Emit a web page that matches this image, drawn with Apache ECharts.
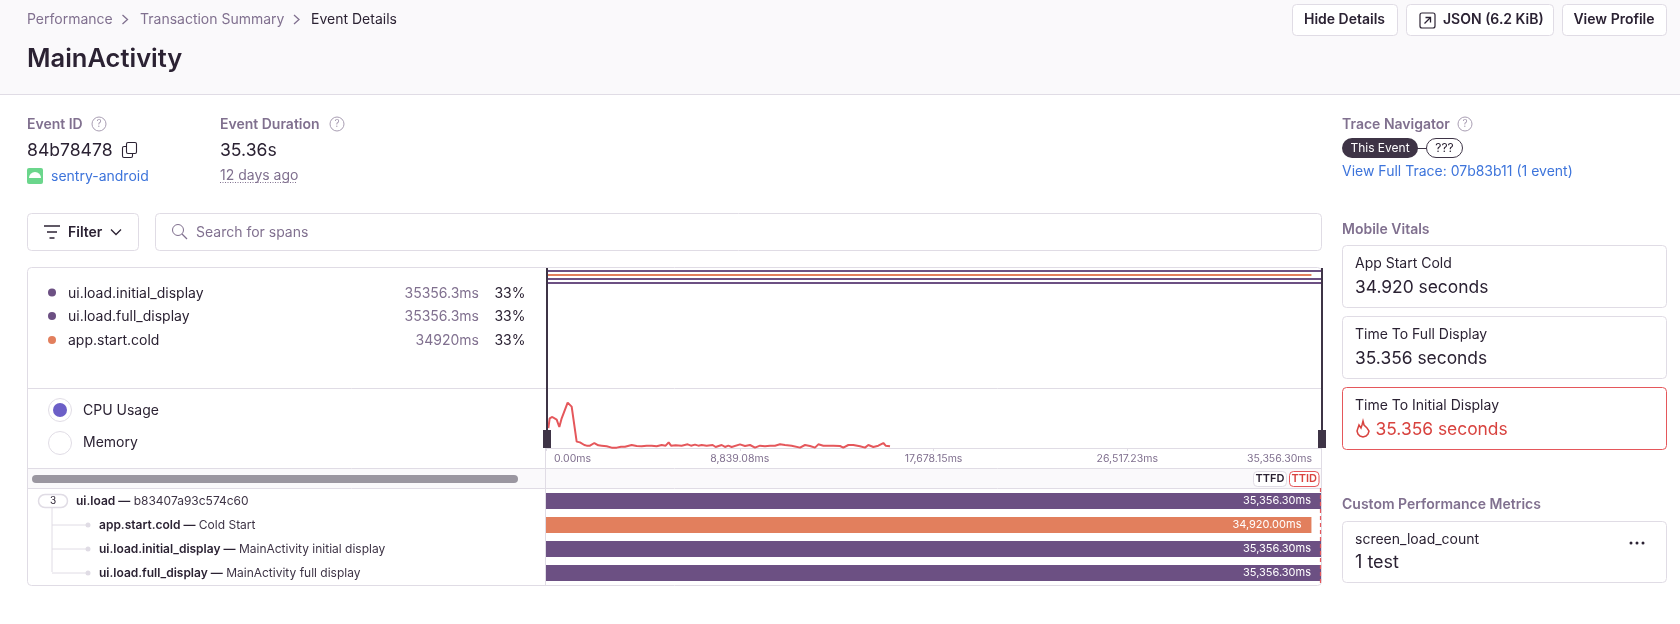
<!DOCTYPE html>
<html>
<head>
<meta charset="utf-8">
<title>MainActivity</title>
<style>
html,body{margin:0;padding:0;background:#fff}
#main{width:1680px;height:624px}
</style>
<script src="https://cdn.jsdelivr.net/npm/echarts@6/dist/echarts.min.js"></script>
</head>
<body>
<div id="main"></div>
<script>
// spans, top to bottom
var spanOps=['ui.load','app.start.cold','ui.load.initial_display','ui.load.full_display']
var spanDescs=['b83407a93c574c60','Cold Start','MainActivity initial display','MainActivity full display']
var spanDurations=[35356.3,34920,35356.3,35356.3]
var spanLabels=['35,356.30ms','34,920.00ms','35,356.30ms','35,356.30ms']

// legend of the op breakdown
var legendNames=['ui.load.initial_display','ui.load.full_display','app.start.cold']
var legendTimes=['35356.3ms','35356.3ms','34920ms']
var legendShares=['33%','33%','33%']

// minimap axis
var tickLabels=['0.00ms','8,839.08ms','17,678.15ms','26,517.23ms','35,356.30ms']
var traceEnd=35356.3

// cpu usage (ms, %)
var cpuTimes=[107,167,289,487,608,715,988,1171,1399,1551,1627,1749,1855,2007,2205,2388,2540,2768,2996,3224,3422,3604,3908,4136,4364,4592,4821,5049,5277,5459,5596,5703,5915,6189,6463,6615,6798,6950,7102,7330,7603,7740,8014,8166,8318,8470,8850,9079,9307,9535,9763,9991,10219,10447,10675,10903,11207,11588,11816,12044,12272,12424,12652,13108,13412,13565,13793,14021,14325,14553,14705,14933,15161,15390,15496,15694]
var cpuValues=[33,49.4,51.7,47.2,35,49.4,75.6,68.9,10.6,9.4,6.1,5,3.9,3.9,8.3,4.4,3.9,2.8,0.6,0.6,2.2,2.2,5,3.3,2.8,3.9,3.9,2.8,5,3.9,9.4,3.9,4.4,3.9,6.1,3.9,5.6,3.9,5,3.9,5,1.7,5,1.7,3.9,1.7,6.1,3.3,5,0.6,3.9,2.8,3.9,3.9,6.1,5,3.9,0.6,5,3.3,0.6,6.1,3.9,3.9,3.3,0.6,5,5,2.8,0.6,5,1.7,3.9,8.3,3.9,2.8]

// vitals cards
var vitalNames=['App Start Cold','Time To Full Display','Time To Initial Display']
var vitalValues=['34.920 seconds','35.356 seconds','35.356 seconds']

var FONT='Inter, "Noto Sans", sans-serif'
var ink='#2B2233', sub='#80708F', border='#E0DCE5', faint='#FAF9FB', dark='#3E3446'
var purple='#6C5083', orange='#E27F5D', red='#E5575B', blue='#3D74DB'

function barColor(op){ return op=='app.start.cold' ? orange : purple }

function T(text,x,y,o){
  o=o||{}
  return {type:'text',silent:true,z:o.z||1,style:{
    text:text,x:x,y:y+1,fill:o.color||ink,
    font:(o.weight||400)+' '+(o.size||14)+'px '+FONT,
    align:o.align||'left',textAlign:o.align||'left',
    verticalAlign:'middle',textVerticalAlign:'middle',
    rich:o.rich
  }}
}
function box(x,y,w,h,o){
  o=o||{}
  return {type:'rect',silent:true,z:o.z||0,shape:{x:x,y:y,width:w,height:h,r:o.r==null?4:o.r},
    style:{fill:o.fill||'none',stroke:o.stroke||null,lineWidth:o.lw||1}}
}
function L(x1,y1,x2,y2,o){
  o=o||{}
  return {type:'line',silent:true,z:o.z||0,shape:{x1:x1,y1:y1,x2:x2,y2:y2},
    style:{stroke:o.color||border,lineWidth:o.lw||1,lineDash:o.dash||null}}
}
function poly(points,o){
  o=o||{}
  return {type:'polyline',silent:true,z:1,shape:{points:points},
    style:{stroke:o.color||ink,lineWidth:o.lw||1.3,fill:'none'}}
}
function dot(x,y,r,fill,stroke){
  return {type:'circle',silent:true,z:1,shape:{cx:x,cy:y,r:r},
    style:{fill:fill||'none',stroke:stroke||null,lineWidth:1}}
}
function help(x,y){
  return [dot(x,y,7,'#fff','#A89DB2'),T('?',x,y-1,{size:10,color:'#A89DB2',align:'center'})]
}
function button(x,w,label){
  return [box(x+.5,4.5,w,31,{fill:'#fff',stroke:border}),T(label,x+w/2,19,{weight:600,align:'center'})]
}

var g=[]
// header
g.push(box(0,0,1680,94,{fill:faint,r:0,z:-1}),L(0,94.5,1680,94.5))
g.push(T('Performance',27,19,{color:sub}),T('Transaction Summary',140,19,{color:sub}),T('Event Details',311,19))
g.push(poly([[122.5,15],[127.5,19.5],[122.5,24]],{color:sub}),poly([[294,15],[299,19.5],[294,24]],{color:sub}))
g.push(T('MainActivity',27,58,{size:25.5,weight:600}))
g=g.concat(button(1292,105,'Hide Details'))
g.push(box(1406.5,4.5,147,31,{fill:'#fff',stroke:border}),T('JSON (6.2 KiB)',1443,19,{weight:600}))
g.push(box(1420,13,15,15,{stroke:ink,lw:1.2,r:2}),poly([[1424.5,23.5],[1430.5,17.5]]),poly([[1425.5,17.5],[1430.5,17.5],[1430.5,22.5]]))
g=g.concat(button(1562,104,'View Profile'))

// event meta
g.push(T('Event ID',27,124,{color:sub,weight:600}),T('Event Duration',220,124,{color:sub,weight:600}))
g=g.concat(help(99,124),help(337,124))
g.push(T('84b78478',27,149.5,{size:17.6}),T('35.36s',220,149.5,{size:17.6}))
g.push(box(122.5,146.5,10,11,{stroke:ink,lw:1.1,r:1.5}),box(126.5,142.5,10,11,{stroke:ink,fill:'#fff',lw:1.1,r:1.5}))
g.push(box(27,168,16,16,{fill:'#6BD68C',r:2}))
g.push({type:'sector',silent:true,z:1,shape:{cx:35,cy:178,r:6,startAngle:Math.PI,endAngle:Math.PI*2},style:{fill:'#fff'}})
g.push(T('sentry-android',51,176,{color:blue}))
g.push(T('12 days ago',220,175,{color:sub}),L(220,182.5,296,182.5,{color:sub,dash:[1,1.5]}))

// filter + search
g.push(box(27.5,213.5,111,37,{fill:'#fff',stroke:border}),box(155.5,213.5,1166,37,{fill:'#fff',stroke:border}))
g.push(L(44,226,60,226,{color:ink,lw:1.5}),L(47,232,57,232,{color:ink,lw:1.5}),L(49.5,238,54.5,238,{color:ink,lw:1.5}))
g.push(T('Filter',68,232,{weight:600}),poly([[111,229.5],[116,234.5],[121,229.5]]))
g.push(dot(178,230,5.5,'none',sub),L(182,234,187,239,{color:sub,lw:1.3}))
g.push(T('Search for spans',196,232,{color:sub}))

// span panel frame
g.push(box(27.5,267.5,1294,318,{stroke:border}))
g.push(L(28,388.5,1321,388.5),L(28,468.5,1321,468.5),L(28,488.5,1321,488.5))
g.push(box(28,469,1293,19,{fill:faint,r:0,z:-1}),L(545.5,448,545.5,585))
g.push(box(32,475,486,8,{fill:'#9A96A0',r:4}))

// op legend
var legendY=[292.5,316,340]
legendNames.forEach(function(name,i){
  g.push(dot(52,legendY[i],4,barColor(name)))
  g.push(T(name,68,legendY[i]))
  g.push(T(legendTimes[i],479,legendY[i],{color:sub,align:'right'}))
  g.push(T(legendShares[i],525.5,legendY[i],{align:'right'}))
})

// cpu / memory radio
g.push(dot(60,410,11.5,'#fff',border),dot(60,410,7,'#6C5FC7'),T('CPU Usage',83,410))
g.push(dot(60,443,11.5,'#fff',border),T('Memory',83,442))

// handles over the minimap
g.push(box(546,268,2,162,{fill:dark,r:0,z:10}),box(543,430,8,18,{fill:dark,r:0,z:10}))
g.push(box(1321,268,2,162,{fill:dark,r:0,z:10}),box(1318,430,8,18,{fill:dark,r:0,z:10}))

// ttfd / ttid badges
g.push(box(1253.5,471.5,33,15,{fill:'#fff',stroke:border,r:4}),T('TTFD',1270,477.5,{size:11,weight:600,align:'center'}))
g.push(box(1289.5,471.5,29.5,15,{fill:'#fff',stroke:red,r:4}),T('TTID',1304.2,477.5,{size:11,weight:600,align:'center',color:'#D8433F'}))
g.push(L(1320.5,488,1320.5,584,{color:red,lw:1.2,dash:[4,3],z:10}))

// span tree
var rowY=[501,525,549,573]
var rich={b:{fontFamily:FONT,fontSize:12,fontWeight:600,fill:ink},n:{fontFamily:FONT,fontSize:12,fontWeight:400,fill:dark}}
g.push(L(52,507,52,572),box(38.5,494.5,29,13,{fill:'#fff',stroke:border,lw:1.5,r:6.5}))
g.push(T('3',53,500,{size:10,align:'center'}))
spanOps.forEach(function(op,i){
  var x=i==0?76:99
  g.push(T('{b|'+op+' \u2014} {n|'+spanDescs[i]+'}',x,rowY[i]-1,{size:12,rich:rich}))
  if(i>0){ g.push(L(52,rowY[i],86,rowY[i]),dot(88,rowY[i],2.5,border)) }
})

// right column
g.push(T('Trace Navigator',1342,124,{color:sub,weight:600}))
g=g.concat(help(1465,124))
g.push(L(1416,148.5,1428,148.5,{color:dark}),box(1342,138,76,20,{fill:dark,r:10}),T('This Event',1380,147,{size:12,color:'#fff',align:'center'}))
g.push(box(1426.5,138.5,36,19,{fill:'#fff',stroke:dark,r:9.5}),T('???',1444.5,147,{size:12,align:'center'}))
g.push(T('View Full Trace: 07b83b11 (1 event)',1342,171,{color:blue}))
g.push(T('Mobile Vitals',1342,229,{color:sub,weight:600}))
var cardTop=[245.5,316.5,387.5]
vitalNames.forEach(function(name,i){
  var hot=i==2
  g.push(box(1342.5,cardTop[i],324,62,{fill:'#fff',stroke:hot?red:border}))
  g.push(T(name,1355,cardTop[i]+17))
  g.push(T(vitalValues[i],hot?1375.5:1355,cardTop[i]+41,{size:17.4,color:hot?'#D8433F':ink}))
})
g.push({type:'polygon',silent:true,z:1,shape:{points:[[1363,421],[1364,425],[1367,428],[1369,431],[1368,434],[1366,436],[1363,437],[1360,436],[1358,434],[1357,431],[1358,428],[1359,425],[1361,428],[1362,425]]},style:{fill:'none',stroke:'#D8433F',lineWidth:1.5}})
g.push(T('Custom Performance Metrics',1342,504,{color:sub,weight:600}))
g.push(box(1342.5,521.5,324,61,{fill:'#fff',stroke:border}))
g.push(T('screen_load_count',1355,539),T('1 test',1355,562,{size:18}))
g.push(dot(1631,543,1.5,ink),dot(1637,543,1.5,ink),dot(1643,543,1.5,ink))

function hiddenX(i){
  return {type:'value',gridIndex:i,min:0,max:traceEnd,show:false}
}
function hiddenY(i){
  return {type:'category',gridIndex:i,inverse:true,data:spanOps,show:false}
}

var chart=echarts.init(document.getElementById('main'))
chart.setOption({
  animation:false,
  grid:[
    {left:546,width:775,top:269,height:16},
    {left:546,width:775,top:388,height:60},
    {left:546,width:775,top:489,height:96}
  ],
  xAxis:[
    hiddenX(0),
    {
      type:'value',gridIndex:1,min:0,max:traceEnd,interval:traceEnd/4,
      splitLine:{show:false},
      axisLine:{lineStyle:{color:border}},
      axisTick:{length:3,lineStyle:{color:border}},
      axisLabel:{
        margin:5,fontSize:10.5,fontFamily:FONT,color:sub,
        alignMinLabel:'left',alignMaxLabel:'right',
        formatter:function(v){
          var i=Math.round(v/(traceEnd/4))
          if(i==0) return '{first|'+tickLabels[i]+'}'
          if(i==4) return '{last|'+tickLabels[i]+'}'
          return tickLabels[i]
        },
        rich:{
          first:{fontSize:10.5,fontFamily:FONT,color:sub,padding:[0,0,0,8]},
          last:{fontSize:10.5,fontFamily:FONT,color:sub,padding:[0,9,0,0]}
        }
      }
    },
    hiddenX(2)
  ],
  yAxis:[
    hiddenY(0),
    {type:'value',gridIndex:1,min:0,max:100,show:false},
    hiddenY(2)
  ],
  series:[
    {
      type:'bar',xAxisIndex:0,yAxisIndex:0,barWidth:2,silent:true,
      data:spanDurations.map(function(d,i){ return {value:d,itemStyle:{color:barColor(spanOps[i])}} })
    },
    {
      type:'line',xAxisIndex:1,yAxisIndex:1,symbol:'none',silent:true,
      lineStyle:{color:red,width:2},
      data:cpuTimes.map(function(t,i){ return [t,cpuValues[i]] })
    },
    {
      type:'bar',xAxisIndex:2,yAxisIndex:2,barWidth:16,silent:true,
      label:{
        show:true,position:'insideRight',distance:10,color:'#fff',fontSize:11,fontFamily:FONT,
        formatter:function(p){ return spanLabels[p.dataIndex] }
      },
      data:spanDurations.map(function(d,i){ return {value:d,itemStyle:{color:barColor(spanOps[i])}} })
    }
  ],
  graphic:{elements:g}
})
</script>
</body>
</html>
